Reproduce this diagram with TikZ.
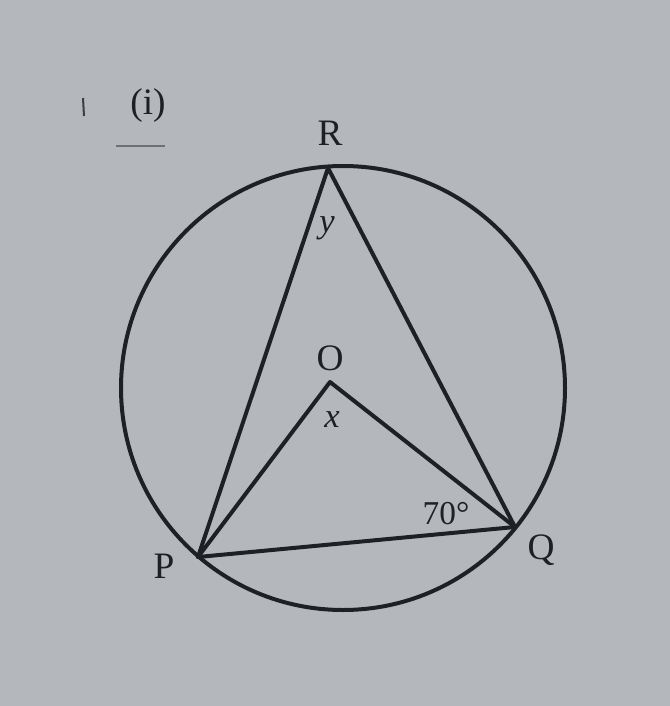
\documentclass[tikz,border=0pt]{standalone}
\usepackage{fontspec}
\setmainfont{Liberation Serif}
\definecolor{inkc}{RGB}{30,32,35}
\definecolor{paper}{RGB}{180,184,189}
\definecolor{faint}{RGB}{110,112,118}
\definecolor{mark}{RGB}{60,62,66}
\begin{document}
\begin{tikzpicture}[x=0.75pt,y=-0.75pt,
  ink/.style={draw=inkc, line width=3pt, line join=round, line cap=round},
  lbl/.style={text=inkc, inner sep=0pt, font=\fontsize{28}{30}\selectfont},
  anglbl/.style={text=inkc, inner sep=0pt, font=\fontsize{26}{28}\selectfont\itshape}]
\fill[paper] (0,0) rectangle (670,706);
\useasboundingbox (0,0) rectangle (670,706);
\coordinate (C) at (343,388);
\coordinate (P) at (198,557);
\coordinate (Q) at (515,527);
\coordinate (R) at (328,168);
\coordinate (O) at (330,382);
\draw[ink] (C) circle[radius=222*0.75pt];
\draw[ink] (P) -- (R) -- (Q) -- cycle;
\draw[ink] (P) -- (O) -- (Q);
\node[lbl] (lR) at (330,133) {R};
\node[lbl] (lO) at (330,358) {O};
\node[lbl] (lP) at (164,566) {P};
\node[lbl] (lQ) at (541,550) {Q};
\node[anglbl] (ly) at (327,228) {y};
\node[anglbl] (lx) at (332,420) {x};
\node[lbl, font=\fontsize{25}{27}\selectfont] (l70) at (446,514) {70°};
\node[lbl] (li) at (148,106) {(i)};
\coordinate (u1) at (116,146);
\coordinate (u2) at (165,146);
\draw[draw=faint, line width=1.5pt] (u1) -- (u2);
\coordinate (m1) at (83,98);
\coordinate (m2) at (84,116);
\draw[draw=mark, line width=1.5pt] (m1) -- (m2);
\end{tikzpicture}
\end{document}
